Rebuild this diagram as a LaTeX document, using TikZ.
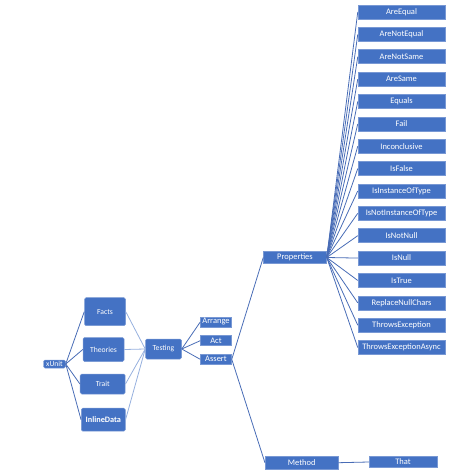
\documentclass[tikz,border=0pt]{standalone}
\usepackage{fontspec}
\setmainfont{Carlito}
\definecolor{boxblue}{RGB}{68,114,196}
\definecolor{edgeblue}{RGB}{120,152,212}
\definecolor{lineblue}{RGB}{72,108,182}
\definecolor{lightline}{RGB}{150,176,222}

\begin{document}
\begin{tikzpicture}[x=1bp,y=-1bp,line width=0.8pt,
  box/.style={fill=boxblue,draw=edgeblue,line width=0.5pt,text=white,
    inner sep=0pt,font=\fontsize{8.5}{9}\selectfont},
  leftbox/.style={box,rounded corners=1.5pt,font=\fontsize{7.7}{9}\selectfont},
  link/.style={draw=lineblue},
  softlink/.style={draw=lightline}]
\useasboundingbox (0,0) rectangle (474,476);
% left part
\node[leftbox,minimum width=22bp,minimum height=8bp] (xUnit) at (54.5,364) {xUnit};
\node[leftbox,minimum width=41bp,minimum height=28bp] (Facts) at (105,311.7) {Facts};
\node[leftbox,minimum width=41bp,minimum height=24bp] (Theories) at (103.5,349.5) {Theories};
\node[leftbox,minimum width=45bp,minimum height=20bp] (Trait) at (102.7,384) {Trait};
\node[leftbox,minimum width=44bp,minimum height=23bp,font=\fontsize{8.3}{9}\selectfont\bfseries]
  (InlineData) at (103.3,419.7) {InlineData};
\node[leftbox,minimum width=36bp,minimum height=20bp] (Testing) at (163.5,349) {Testing};
\foreach \k in {Facts,Theories,Trait,InlineData}{
  \draw[link] (xUnit.east) -- (\k.west);
  \draw[softlink] (\k.east) -- (Testing.west);
}
% steps
\node[box,minimum width=31bp,minimum height=10bp] (Arrange) at (216,322) {Arrange};
\node[box,minimum width=31bp,minimum height=10bp] (Act) at (216,340.7) {Act};
\node[box,minimum width=31bp,minimum height=10bp] (Assert) at (216,359.3) {Assert};
\foreach \k in {Arrange,Act,Assert}
  \draw[link] (Testing.east) -- (\k.west);
\node[box,minimum width=63bp,minimum height=12bp] (Properties) at (295,257.5) {Properties};
\node[box,minimum width=73bp,minimum height=13bp] (Method) at (301.7,462.7) {Method};
\node[box,minimum width=68bp,minimum height=11bp] (That) at (403,462) {That};
\draw[link] (Assert.east) -- (Properties.west);
\draw[link] (Assert.east) -- (Method.west);
\draw[link] (Method.east) -- (That.west);
% assert members
\foreach \name [count=\i] in {AreEqual,AreNotEqual,AreNotSame,AreSame,Equals,Fail,
    Inconclusive,IsFalse,IsInstanceOfType,IsNotInstanceOfType,IsNotNull,IsNull,
    IsTrue,ReplaceNullChars,ThrowsException,ThrowsExceptionAsync}{
  \node[box,minimum width=87bp,minimum height=14bp] (\name) at (401.5,{12+22.37*(\i-1)}) {\name};
  \draw[link] (Properties.east) -- (\name.west);
}
\end{tikzpicture}
\end{document}
